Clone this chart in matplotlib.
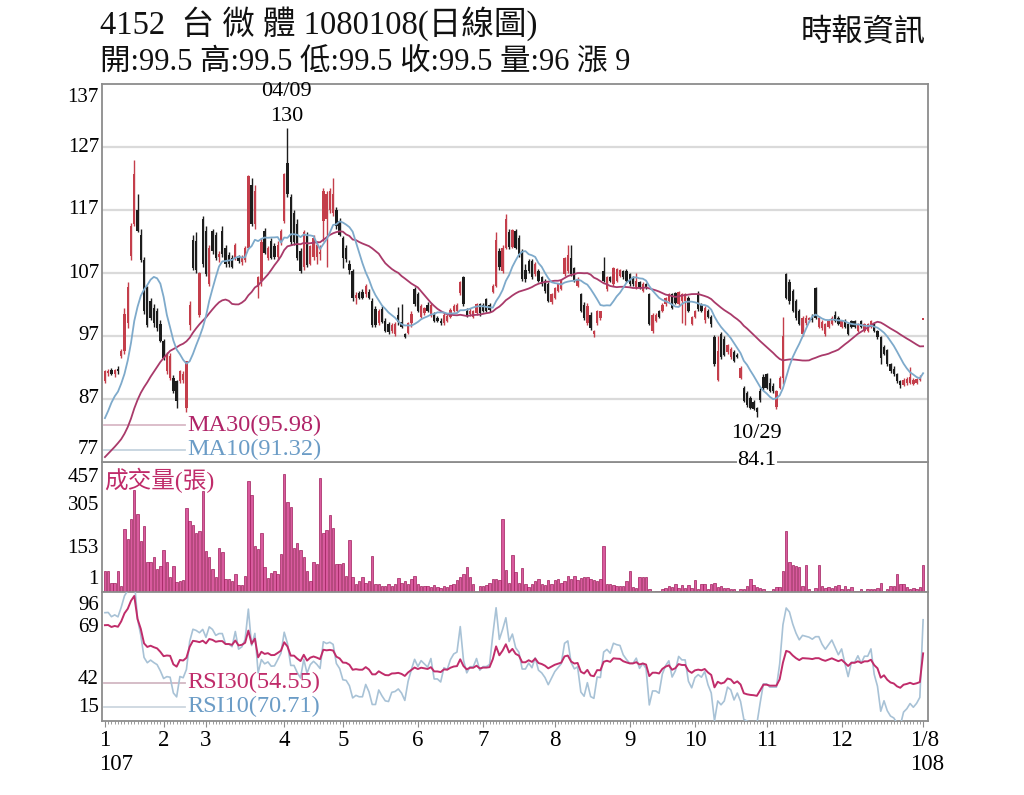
import matplotlib
matplotlib.use('Agg')
import matplotlib.pyplot as plt
import numpy as np
import pandas as pd
from matplotlib.transforms import blended_transform_factory

FONT = ['Liberation Serif', 'Noto Sans CJK TC']
plt.rcParams['font.family'] = FONT

title = '4152  台 微 體 1080108(日線圖)'
subtitle = '開:99.5 高:99.5 低:99.5 收:99.5 量:96 漲 9'
source = '時報資訊'

# closes of the 30 sessions before the window (estimated from the starting MA/RSI levels)
pre_close = [74.1, 75.6, 74.4, 75.2, 73.7, 75.7, 74.7, 72.9, 74.1, 74.7,
             73.3, 75.1, 74.2, 75.2, 73.6, 75.8, 74.6, 73.1, 74.7, 76.2,
             77.0, 80.0, 78.0, 81.5, 84.0, 81.8, 85.0, 83.5, 86.5, 88.0]

opens = [89.8, 91.2, 91.6, 91.0, 91.6, 93.8, 94.6, 99.0, 109.7, 114.7,
         117.0, 113.0, 109.0, 104.7, 102.5, 101.5, 101.0, 98.9, 96.2, 91.4,
         90.4, 90.4, 89.8, 89.8, 90.0, 85.6, 98.8, 112.3, 112.0, 100.4,
         115.5, 113.7, 105.2, 113.7, 113.0, 109.6, 113.7, 111.0, 109.8, 109.4,
         109.4, 109.4, 108.8, 109.0, 111.0, 121.0, 114.7, 104.7, 105.7, 113.7,
         109.4, 112.0, 111.3, 109.5, 112.0, 115.3, 124.5, 119.0, 116.5, 114.7,
         110.5, 108.0, 113.0, 108.5, 109.5, 109.5, 110.0, 115.3, 115.5, 117.0,
         116.5, 117.0, 115.3, 112.6, 111.0, 108.5, 107.3, 103.0, 103.8, 104.0,
         103.6, 104.0, 102.5, 101.3, 99.0, 101.3, 99.4, 98.9, 97.8, 97.3,
         100.4, 99.2, 97.3, 97.5, 99.0, 104.4, 103.6, 100.0, 100.6, 102.0,
         100.2, 100.4, 99.9, 99.4, 99.0, 99.4, 100.0, 101.0, 101.0, 103.9,
         106.3, 101.0, 100.5, 100.0, 100.6, 102.0, 102.0, 102.8, 102.0, 104.0,
         105.0, 110.5, 107.3, 111.0, 113.5, 111.2, 113.7, 112.5, 110.5, 107.5,
         108.9, 108.9, 106.8, 107.3, 106.3, 105.7, 105.2, 102.4, 103.0, 104.2,
         104.5, 106.8, 107.3, 109.4, 107.8, 105.0, 103.6, 102.0, 99.0, 100.4,
         97.3, 99.0, 99.9, 107.3, 104.5, 106.3, 105.2, 105.8, 106.6, 107.3,
         107.3, 106.8, 106.3, 104.7, 105.5, 104.2, 105.2, 103.6, 97.8, 99.4,
         101.0, 101.0, 102.0, 102.6, 103.6, 103.8, 102.0, 102.6, 102.6, 103.0,
         98.9, 100.0, 103.6, 102.0, 99.5, 101.0, 100.0, 96.8, 90.0, 97.3,
         96.5, 94.5, 93.6, 94.5, 94.0, 90.4, 88.8, 88.0, 87.2, 86.5,
         85.6, 88.3, 90.5, 90.9, 89.5, 89.0, 85.7, 88.8, 90.4, 106.8,
         105.5, 104.2, 102.5, 101.0, 97.3, 99.0, 99.5, 100.0, 104.6, 98.4,
         98.2, 97.3, 98.4, 98.9, 100.4, 99.9, 98.4, 99.4, 98.9, 99.4,
         99.4, 97.8, 99.4, 97.8, 97.8, 98.4, 98.9, 97.8, 96.8, 95.2,
         94.7, 92.5, 91.8, 91.0, 89.8, 89.2, 89.5, 89.6, 89.4, 89.6,
         90.0, 99.5]

highs = [91.6, 91.8, 91.9, 91.8, 92.2, 95.0, 101.5, 105.5, 115.0, 125.0,
         119.5, 114.0, 109.5, 105.0, 103.0, 102.0, 101.5, 99.5, 96.5, 94.4,
         94.3, 90.8, 90.0, 91.6, 91.5, 93.0, 102.5, 113.0, 113.5, 107.2,
         116.0, 114.5, 111.5, 114.0, 113.5, 110.5, 114.5, 111.5, 110.3, 109.8,
         111.8, 109.9, 109.8, 111.3, 122.5, 122.0, 121.0, 106.5, 112.5, 114.2,
         111.3, 112.5, 111.8, 112.0, 114.0, 122.8, 130.0, 119.5, 117.0, 115.5,
         111.0, 113.8, 113.5, 111.5, 113.0, 112.0, 111.5, 120.5, 120.0, 120.5,
         122.0, 117.5, 115.8, 112.9, 111.5, 109.0, 107.6, 104.0, 104.2, 104.5,
         105.3, 104.5, 103.0, 101.8, 101.3, 101.8, 99.8, 99.3, 99.0, 99.2,
         101.6, 102.0, 97.5, 99.2, 101.0, 104.8, 104.0, 102.0, 101.6, 102.4,
         102.3, 100.8, 100.2, 99.8, 100.6, 100.5, 101.5, 102.0, 102.3, 105.8,
         106.5, 101.4, 101.5, 101.2, 102.2, 102.2, 102.3, 103.0, 102.3, 105.2,
         113.5, 111.0, 111.5, 116.3, 114.0, 114.0, 114.0, 113.0, 110.8, 108.5,
         109.3, 109.2, 108.7, 107.6, 106.5, 106.0, 105.5, 103.8, 104.8, 105.4,
         106.0, 109.6, 111.5, 111.5, 108.0, 106.3, 103.9, 102.4, 102.2, 100.8,
         97.9, 101.2, 101.0, 109.5, 106.6, 106.6, 108.0, 107.8, 107.7, 107.5,
         107.6, 107.0, 106.5, 107.0, 105.8, 105.5, 105.4, 103.9, 100.6, 100.6,
         101.2, 102.2, 103.2, 103.8, 103.8, 104.0, 104.2, 103.8, 103.8, 103.3,
         100.2, 101.2, 104.2, 102.3, 101.8, 101.3, 100.3, 97.2, 97.0, 97.6,
         97.0, 95.8, 95.3, 94.8, 94.3, 92.2, 89.0, 88.3, 87.5, 86.8,
         85.8, 88.8, 91.0, 91.2, 90.3, 89.6, 88.5, 90.6, 100.0, 107.0,
         106.0, 104.5, 102.8, 101.3, 100.2, 100.3, 100.0, 100.5, 104.8, 100.2,
         99.5, 99.1, 99.6, 100.1, 101.0, 100.2, 99.6, 99.7, 99.2, 99.6,
         99.6, 99.0, 99.6, 99.0, 99.0, 99.6, 99.1, 98.0, 97.0, 95.5,
         95.0, 92.7, 92.2, 91.2, 90.0, 90.3, 90.5, 92.0, 90.4, 90.4,
         90.8, 99.5]

lows = [89.5, 90.6, 90.8, 90.5, 91.0, 93.5, 94.2, 98.3, 109.0, 114.5,
        113.5, 108.8, 100.5, 98.5, 99.5, 98.5, 97.8, 96.0, 93.2, 91.0,
        90.0, 88.0, 85.6, 89.5, 89.5, 85.0, 98.0, 107.5, 107.0, 100.0,
        108.0, 106.5, 105.0, 110.0, 109.0, 108.8, 109.5, 108.0, 108.0, 107.8,
        109.0, 108.6, 108.3, 108.8, 110.8, 114.5, 114.0, 103.0, 105.0, 110.0,
        109.0, 109.2, 109.2, 109.0, 111.5, 115.0, 119.0, 111.5, 111.5, 109.0,
        107.0, 107.5, 108.0, 108.2, 109.0, 108.5, 109.0, 112.0, 108.0, 116.5,
        116.0, 114.0, 112.8, 107.8, 108.8, 106.8, 102.5, 102.0, 102.8, 102.8,
        103.2, 102.8, 98.5, 98.5, 98.8, 99.0, 97.6, 97.3, 97.5, 97.0,
        98.8, 98.2, 96.7, 97.3, 98.5, 101.8, 100.8, 99.8, 100.3, 100.8,
        100.0, 99.2, 99.2, 98.8, 98.8, 99.2, 99.8, 100.8, 100.8, 103.5,
        101.8, 100.0, 100.2, 99.8, 100.4, 100.2, 100.8, 100.8, 100.8, 103.8,
        104.8, 107.5, 107.0, 110.8, 110.8, 111.0, 110.8, 109.5, 105.8, 105.5,
        107.0, 106.0, 106.5, 105.6, 105.0, 103.8, 102.4, 102.0, 102.8, 104.0,
        104.3, 106.5, 107.0, 106.5, 105.5, 104.8, 100.8, 99.5, 98.7, 98.0,
        96.9, 98.8, 99.6, 105.5, 104.2, 105.5, 105.0, 105.5, 106.4, 106.0,
        105.5, 105.0, 105.0, 104.5, 104.5, 104.0, 104.5, 98.7, 97.5, 99.2,
        99.8, 100.8, 101.8, 102.4, 101.3, 102.0, 101.8, 99.0, 98.8, 100.8,
        98.7, 99.8, 101.0, 100.8, 99.0, 99.8, 98.5, 92.3, 89.8, 93.4,
        93.8, 94.2, 93.4, 92.8, 93.5, 90.2, 86.5, 85.8, 85.4, 85.2,
        84.1, 86.5, 88.5, 88.6, 88.1, 88.0, 85.4, 88.6, 89.4, 102.8,
        102.0, 100.8, 99.5, 98.7, 97.0, 98.7, 99.2, 99.2, 99.7, 98.2,
        98.0, 97.0, 98.2, 98.7, 99.2, 98.7, 98.2, 98.2, 97.1, 98.2,
        98.2, 97.6, 98.2, 97.6, 97.6, 98.2, 97.6, 96.6, 92.5, 94.0,
        92.3, 91.2, 90.6, 89.6, 88.8, 89.0, 89.3, 89.4, 89.2, 89.4,
        89.8, 99.5]

closes = [91.4, 91.5, 91.0, 91.6, 91.4, 94.6, 100.5, 104.7, 114.5, 122.7,
          113.7, 109.0, 101.0, 98.8, 99.9, 99.0, 98.3, 96.2, 93.5, 94.0,
          93.8, 88.3, 86.7, 91.4, 91.0, 93.0, 102.0, 107.8, 107.5, 107.0,
          108.4, 106.8, 111.0, 110.5, 109.4, 110.0, 110.0, 108.4, 108.4, 108.0,
          111.5, 108.9, 109.4, 111.0, 122.4, 114.7, 120.0, 106.3, 112.0, 110.2,
          111.0, 109.4, 109.5, 111.5, 113.7, 122.7, 119.5, 112.0, 112.0, 109.4,
          107.3, 113.5, 108.3, 111.3, 112.5, 111.5, 110.2, 120.0, 119.5, 120.0,
          119.5, 114.5, 113.0, 109.4, 109.2, 107.5, 103.0, 103.5, 103.0, 103.0,
          105.0, 103.0, 98.8, 98.8, 101.0, 99.3, 97.8, 97.6, 98.8, 98.9,
          99.2, 98.4, 96.9, 99.0, 100.5, 102.0, 101.0, 101.8, 101.4, 101.0,
          102.0, 99.4, 99.4, 99.0, 100.4, 100.2, 101.2, 101.8, 102.0, 105.5,
          102.0, 100.2, 101.0, 101.0, 102.0, 100.6, 101.0, 101.0, 101.2, 105.0,
          112.3, 108.0, 111.0, 115.5, 111.2, 113.8, 111.0, 110.0, 106.0, 106.0,
          107.3, 106.3, 108.4, 105.8, 105.2, 104.2, 102.6, 103.6, 104.6, 105.2,
          105.8, 109.4, 109.9, 106.8, 105.7, 106.0, 101.0, 99.9, 101.8, 98.3,
          97.8, 101.0, 100.9, 105.7, 106.3, 105.7, 107.8, 107.6, 107.5, 106.3,
          105.7, 105.2, 105.2, 105.8, 104.7, 105.2, 104.7, 98.9, 100.4, 100.4,
          100.0, 102.0, 103.0, 103.6, 101.5, 102.2, 104.0, 103.6, 103.6, 101.0,
          100.0, 101.0, 101.3, 101.0, 101.5, 100.0, 98.9, 92.5, 94.6, 93.6,
          94.0, 95.5, 95.0, 93.0, 93.7, 92.0, 86.7, 86.0, 85.6, 85.4,
          85.0, 86.8, 88.8, 88.8, 88.3, 88.3, 88.3, 90.4, 97.0, 103.0,
          102.5, 101.0, 99.8, 98.9, 99.9, 99.8, 99.7, 99.5, 99.9, 99.9,
          99.3, 98.9, 99.4, 99.9, 99.4, 98.9, 99.4, 98.4, 97.3, 98.4,
          98.4, 98.9, 98.4, 98.9, 98.9, 99.4, 97.8, 96.8, 93.5, 94.2,
          92.5, 91.4, 91.0, 89.8, 89.2, 90.0, 90.2, 90.5, 90.0, 90.2,
          90.5, 99.5]

volumes = [76, 76, 34, 34, 76, 22, 223, 187, 257, 360,
           275, 181, 233, 106, 106, 124, 81, 93, 149, 106,
           52, 93, 36, 40, 42, 296, 251, 235, 208, 214,
           354, 145, 124, 81, 52, 155, 143, 46, 46, 40,
           64, 26, 25, 58, 392, 341, 163, 151, 208, 90,
           50, 67, 73, 64, 133, 414, 317, 299, 155, 173,
           149, 124, 76, 38, 106, 100, 402, 208, 220, 271,
           226, 100, 100, 102, 58, 182, 52, 28, 38, 52,
           34, 40, 127, 28, 28, 22, 22, 30, 22, 30,
           50, 34, 40, 28, 46, 58, 28, 22, 22, 22,
           20, 24, 18, 16, 22, 18, 26, 30, 42, 52,
           64, 90, 52, 28, 2, 22, 22, 26, 34, 46,
           46, 42, 257, 79, 34, 130, 70, 34, 86, 30,
           18, 28, 40, 46, 28, 26, 42, 30, 42, 46,
           34, 40, 58, 46, 58, 42, 50, 52, 52, 46,
           42, 38, 46, 163, 30, 28, 25, 22, 22, 22,
           40, 74, 18, 16, 52, 52, 54, 10, 2, 6,
           6, 12, 16, 22, 18, 30, 16, 26, 16, 26,
           16, 42, 10, 30, 30, 10, 30, 34, 18, 22,
           14, 16, 10, 10, 6, 12, 10, 22, 46, 26,
           18, 16, 12, 6, 4, 10, 18, 18, 76, 214,
           106, 97, 93, 90, 22, 97, 10, 4, 16, 97,
           22, 16, 18, 16, 22, 26, 12, 22, 10, 18,
           6, 6, 10, 6, 10, 10, 12, 16, 34, 2,
           10, 22, 22, 64, 30, 28, 18, 12, 16, 10,
           18, 96]

month_pos = [0, 18, 31, 55, 73, 96, 116, 138, 161, 181, 203, 226, 251]
month_labels = ['1', '2', '3', '4', '5', '6', '7', '8', '9', '10', '11', '12', '1/8']
year_labels = ['107', '108']

price_ticks = [137, 127, 117, 107, 97, 87, 77]
vol_ticks = [457, 305, 153, 1]
rsi_ticks = ['96', '69', '42', '15']

legend_ma = ['MA30(95.98)', 'MA10(91.32)']
legend_rsi = ['RSI30(54.55)', 'RSI10(70.71)']

# ---------------- computations ----------------
n = len(closes)
x = np.arange(n)
o = np.array(opens); h = np.array(highs); l = np.array(lows); c = np.array(closes)

full = pd.Series(pre_close + closes, dtype=float)
ma10 = full.rolling(10).mean().to_numpy()[-n:]
ma30 = full.rolling(30).mean().to_numpy()[-n:]
d = full.diff().fillna(0.0)
gain = d.clip(lower=0)
loss = (-d).clip(lower=0)


def rsi(p):
    # Wilder smoothing
    g = gain.ewm(alpha=1.0 / p, adjust=False).mean()
    s = g + loss.ewm(alpha=1.0 / p, adjust=False).mean()
    return (100 * g / s).to_numpy()[-n:]


rsi10 = rsi(10)
rsi30 = rsi(30)

# ---------------- styling ----------------
RED = '#c43e4b'
BLACK = '#1c1c1c'
MA30_C = '#a93a6a'
MA10_C = '#7eaacb'
MA30_T = '#b02468'
MA10_T = '#6b9cc6'
VOL_F = '#d95a9e'
VOL_E = '#a01e5c'
RSI30_C = '#c02c6a'
RSI10_C = '#a8c2d6'
SPINE = '#8c8c8c'
GRID = '#dadada'

W_PX, H_PX = 1024, 795
fig = plt.figure(figsize=(W_PX / 100, H_PX / 100), dpi=100)
LEFT, RIGHT = 102, 928


def box(top, bot):
    return [LEFT / W_PX, 1 - bot / H_PX, (RIGHT - LEFT) / W_PX, (bot - top) / H_PX]


axp = fig.add_axes(box(84, 462))
axv = fig.add_axes(box(462, 592), sharex=axp)
axr = fig.add_axes(box(592, 721), sharex=axp)
axp.set_zorder(3)   # so the low annotation may overlap the volume panel's border

for ax in (axp, axv, axr):
    for s in ax.spines.values():
        s.set_color(SPINE)
        s.set_linewidth(1.3)
    ax.tick_params(which='both', left=False, labelleft=False, bottom=False, labelbottom=False)

axp.set_xlim(-0.9, 252.5)

# ---- price panel ----
axp.set_ylim(77, 137)
axp.set_yticks([87, 97, 107, 117, 127])
axp.grid(axis='y', color=GRID, lw=1.6, zorder=0)
up = c >= o
cols = np.where(up, RED, BLACK)
axp.vlines(x, l, h, colors=cols, lw=1.0, zorder=3)
body_b = np.minimum(o, c)
body_h = np.maximum(np.abs(c - o), 0.3)
axp.bar(x, body_h, bottom=body_b, width=0.72, color=cols, lw=0, zorder=4)
axp.plot(x, ma30, color=MA30_C, lw=1.3, zorder=5)
axp.plot(x, ma10, color=MA10_C, lw=1.3, zorder=5)

# legends inside price panel
for txt, yy, lc, tc in [(legend_ma[0], 0.098, '#d9b9c6', MA30_T),
                        (legend_ma[1], 0.032, '#c5d3de', MA10_T)]:
    axp.plot([0.002, 0.1], [yy, yy], transform=axp.transAxes, color=lc, lw=1.3, zorder=2)
    axp.text(0.103, yy, txt, transform=axp.transAxes, color=tc, fontsize=17.5,
             va='center', ha='left', zorder=6)

# high / low annotations
i_hi = int(np.argmax(h)); i_lo = int(np.argmin(l))
axp.text(i_hi - 0.2, 135.8, '04/09', ha='center', va='center', fontsize=16, clip_on=False)
axp.text(i_hi - 0.2, 131.9, f'{h[i_hi]:g}', ha='center', va='center', fontsize=16, clip_on=False)
axp.text(i_lo, 81.6, '10/29', ha='center', va='center', fontsize=16, zorder=7,
         bbox=dict(facecolor='white', edgecolor='none', pad=0.5))
axp.text(i_lo, 77.3, f'{l[i_lo]:g}', ha='center', va='center', fontsize=16, zorder=7,
         clip_on=False, bbox=dict(facecolor='white', edgecolor='none', pad=0.5))

# ---- volume panel ----
axv.set_ylim(1, 457)
axv.bar(x, volumes, width=0.75, color=VOL_F, edgecolor=VOL_E, lw=0.5, zorder=3)
axv.text(0.003, 0.86, '成交量(張)', transform=axv.transAxes, color=RSI30_C,
         fontsize=17, ha='left', va='center', zorder=6)

# ---- RSI panel ----
axr.set_ylim(20.8, 87.1)
axr.plot(x, rsi10, color=RSI10_C, lw=1.2, zorder=3)
axr.plot(x, rsi30, color=RSI30_C, lw=1.4, zorder=4)
for txt, yy, lc, tc in [(legend_rsi[0], 0.295, '#d2b7c3', RSI30_C),
                        (legend_rsi[1], 0.109, '#cdd7df', MA10_T)]:
    axr.plot([0.002, 0.1], [yy, yy], transform=axr.transAxes, color=lc, lw=1.3, zorder=2)
    axr.text(0.103, yy, txt, transform=axr.transAxes, color=tc, fontsize=17.5,
             va='center', ha='left', zorder=6)

# x ticks: daily minor ticks, month major ticks (bottom panel only)
axr.set_xticks(month_pos)
axr.set_xticks(x, minor=True)
axr.tick_params(axis='x', which='major', bottom=True, length=4, color=SPINE, labelbottom=False)
axr.tick_params(axis='x', which='minor', bottom=True, length=2, color=SPINE, width=0.6)

PT = 0.72  # px -> pt at 100 dpi


def ylabel(ax, txt, yval, dy_px):
    ax.annotate(txt, xy=(0, yval), xycoords=('axes fraction', 'data'),
                xytext=(-3 * PT, -dy_px * PT), textcoords='offset points',
                ha='right', va='center', fontsize=15, annotation_clip=False)


ylabel(axp, str(price_ticks[0]), 137, 13)
for t in price_ticks[1:-1]:
    ylabel(axp, str(t), t, 0)
ylabel(axp, str(price_ticks[-1]), 77, -12)

ylabel(axv, str(vol_ticks[0]), 457, 16)
ylabel(axv, str(vol_ticks[1]), 305, 0)
ylabel(axv, str(vol_ticks[2]), 153, 0)
ylabel(axv, str(vol_ticks[3]), 1, -13)

ylabel(axr, rsi_ticks[0], 87.1, 13)
ylabel(axr, rsi_ticks[1], 69, 0)
ylabel(axr, rsi_ticks[2], 42, 0)
ylabel(axr, rsi_ticks[3], 20.8, -14)

btrans = blended_transform_factory(axr.transData, axr.transAxes)
for k, (pos, lab) in enumerate(zip(month_pos, month_labels)):
    if k == 0:
        ha, dx = 'left', -6
    elif k == len(month_pos) - 1:
        ha, dx = 'left', -13
    else:
        ha, dx = 'center', 0
    axr.annotate(lab, xy=(pos, 0), xycoords=btrans, xytext=(dx * PT, -19 * PT),
                 textcoords='offset points', ha=ha, va='center', fontsize=16.5,
                 annotation_clip=False)
axr.annotate(year_labels[0], xy=(month_pos[0], 0), xycoords=btrans, xytext=(-6 * PT, -44 * PT),
             textcoords='offset points', ha='left', va='center', fontsize=16.5, annotation_clip=False)
axr.annotate(year_labels[1], xy=(month_pos[-1], 0), xycoords=btrans, xytext=(-13 * PT, -44 * PT),
             textcoords='offset points', ha='left', va='center', fontsize=16.5, annotation_clip=False)

# titles
fig.text(100 / W_PX, 1 - 24 / H_PX, title, fontsize=23.5, ha='left', va='center', color='#111111')
fig.text(100 / W_PX, 1 - 62 / H_PX, subtitle, fontsize=22, ha='left', va='center', color='#111111')
fig.text(926 / W_PX, 1 - 33 / H_PX, source, fontsize=22.5, ha='right', va='center', color='#111111')

fig.savefig('out.png', dpi=100)
